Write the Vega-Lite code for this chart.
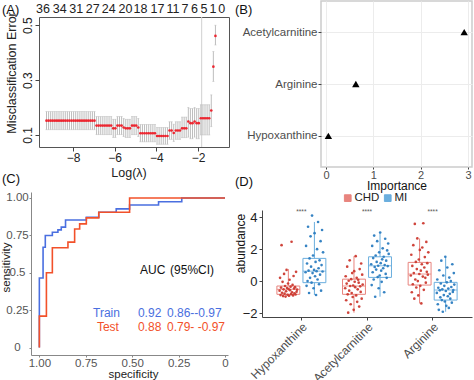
{
"$schema": "https://vega.github.io/schema/vega-lite/v6.json",
"padding": 0,
"config": {
  "font": "Liberation Sans",
  "view": {"stroke": null},
  "axis": {"grid": false, "labelFont": "Liberation Sans", "titleFont": "Liberation Sans", "titleFontWeight": "normal"},
  "title": {"font": "Liberation Sans", "fontWeight": "normal", "fontSize": 13, "color": "#111"}
},
"datasets": {
  "cv": [
    {"l":-9.27,"e":0.152,"lo":0.119,"hi":0.185},{"l":-9.17,"e":0.152,"lo":0.119,"hi":0.185},{"l":-9.07,"e":0.152,"lo":0.119,"hi":0.185},{"l":-8.97,"e":0.152,"lo":0.119,"hi":0.185},
    {"l":-8.87,"e":0.152,"lo":0.119,"hi":0.185},{"l":-8.77,"e":0.152,"lo":0.119,"hi":0.185},{"l":-8.67,"e":0.152,"lo":0.119,"hi":0.185},{"l":-8.57,"e":0.152,"lo":0.119,"hi":0.185},
    {"l":-8.47,"e":0.152,"lo":0.119,"hi":0.185},{"l":-8.37,"e":0.152,"lo":0.119,"hi":0.185},{"l":-8.27,"e":0.152,"lo":0.119,"hi":0.185},{"l":-8.17,"e":0.152,"lo":0.119,"hi":0.185},
    {"l":-8.07,"e":0.152,"lo":0.119,"hi":0.185},{"l":-7.97,"e":0.152,"lo":0.119,"hi":0.185},{"l":-7.87,"e":0.152,"lo":0.119,"hi":0.185},{"l":-7.77,"e":0.152,"lo":0.119,"hi":0.185},
    {"l":-7.67,"e":0.152,"lo":0.119,"hi":0.185},{"l":-7.57,"e":0.152,"lo":0.119,"hi":0.185},{"l":-7.47,"e":0.152,"lo":0.119,"hi":0.185},{"l":-7.37,"e":0.152,"lo":0.119,"hi":0.185},
    {"l":-7.27,"e":0.152,"lo":0.119,"hi":0.185},{"l":-7.17,"e":0.152,"lo":0.119,"hi":0.185},{"l":-7.07,"e":0.152,"lo":0.119,"hi":0.185},{"l":-6.97,"e":0.152,"lo":0.119,"hi":0.185},
    {"l":-6.87,"e":0.134,"lo":0.101,"hi":0.167},{"l":-6.77,"e":0.134,"lo":0.101,"hi":0.167},{"l":-6.67,"e":0.134,"lo":0.101,"hi":0.167},{"l":-6.57,"e":0.134,"lo":0.101,"hi":0.167},
    {"l":-6.47,"e":0.134,"lo":0.101,"hi":0.167},{"l":-6.37,"e":0.134,"lo":0.101,"hi":0.167},{"l":-6.27,"e":0.134,"lo":0.101,"hi":0.167},{"l":-6.17,"e":0.134,"lo":0.101,"hi":0.167},
    {"l":-6.07,"e":0.124,"lo":0.091,"hi":0.157},{"l":-5.97,"e":0.124,"lo":0.091,"hi":0.157},
    {"l":-5.87,"e":0.134,"lo":0.101,"hi":0.167},{"l":-5.77,"e":0.134,"lo":0.101,"hi":0.167},{"l":-5.67,"e":0.134,"lo":0.101,"hi":0.167},
    {"l":-5.57,"e":0.127,"lo":0.094,"hi":0.16},
    {"l":-5.47,"e":0.124,"lo":0.091,"hi":0.157},{"l":-5.37,"e":0.124,"lo":0.091,"hi":0.157},{"l":-5.27,"e":0.124,"lo":0.091,"hi":0.157},
    {"l":-5.17,"e":0.134,"lo":0.101,"hi":0.167},{"l":-5.07,"e":0.134,"lo":0.101,"hi":0.167},{"l":-4.97,"e":0.134,"lo":0.101,"hi":0.167},
    {"l":-4.87,"e":0.127,"lo":0.094,"hi":0.16},
    {"l":-4.77,"e":0.106,"lo":0.075,"hi":0.138},{"l":-4.67,"e":0.106,"lo":0.075,"hi":0.138},{"l":-4.57,"e":0.106,"lo":0.075,"hi":0.138},{"l":-4.47,"e":0.106,"lo":0.075,"hi":0.138},
    {"l":-4.37,"e":0.106,"lo":0.075,"hi":0.138},{"l":-4.27,"e":0.106,"lo":0.075,"hi":0.138},{"l":-4.17,"e":0.106,"lo":0.075,"hi":0.138},{"l":-4.07,"e":0.106,"lo":0.075,"hi":0.138},
    {"l":-3.97,"e":0.096,"lo":0.066,"hi":0.127},{"l":-3.87,"e":0.096,"lo":0.066,"hi":0.127},{"l":-3.77,"e":0.096,"lo":0.066,"hi":0.127},
    {"l":-3.67,"e":0.096,"lo":0.066,"hi":0.127},{"l":-3.57,"e":0.096,"lo":0.066,"hi":0.127},{"l":-3.47,"e":0.096,"lo":0.066,"hi":0.127},
    {"l":-3.37,"e":0.116,"lo":0.084,"hi":0.148},{"l":-3.27,"e":0.116,"lo":0.084,"hi":0.148},
    {"l":-3.17,"e":0.107,"lo":0.076,"hi":0.139},
    {"l":-3.07,"e":0.116,"lo":0.084,"hi":0.148},{"l":-2.97,"e":0.116,"lo":0.084,"hi":0.148},{"l":-2.87,"e":0.116,"lo":0.084,"hi":0.148},
    {"l":-2.77,"e":0.124,"lo":0.09,"hi":0.165},{"l":-2.67,"e":0.124,"lo":0.09,"hi":0.165},{"l":-2.57,"e":0.124,"lo":0.09,"hi":0.165},
    {"l":-2.47,"e":0.149,"lo":0.092,"hi":0.2},
    {"l":-2.37,"e":0.143,"lo":0.086,"hi":0.196},{"l":-2.27,"e":0.143,"lo":0.086,"hi":0.196},
    {"l":-2.17,"e":0.149,"lo":0.092,"hi":0.2},
    {"l":-2.07,"e":0.143,"lo":0.086,"hi":0.196},{"l":-1.97,"e":0.143,"lo":0.086,"hi":0.196},
    {"l":-1.87,"e":0.161,"lo":0.1,"hi":0.21},{"l":-1.77,"e":0.161,"lo":0.1,"hi":0.21},{"l":-1.67,"e":0.161,"lo":0.1,"hi":0.21},
    {"l":-1.57,"e":0.161,"lo":0.1,"hi":0.21},{"l":-1.47,"e":0.161,"lo":0.1,"hi":0.21},
    {"l":-1.37,"e":0.189,"lo":0.13,"hi":0.246},
    {"l":-1.27,"e":0.349,"lo":0.295,"hi":0.404},
    {"l":-1.17,"e":0.461,"lo":0.428,"hi":0.5}
  ],
  "imp": [
    {"name":"Acetylcarnitine","imp":2.92},
    {"name":"Arginine","imp":0.63},
    {"name":"Hypoxanthine","imp":0.05}
  ],
  "train": [
    {"spec":1,"sens":0},{"spec":1,"sens":0.465},{"spec":0.98,"sens":0.465},{"spec":0.98,"sens":0.671},
    {"spec":0.968,"sens":0.671},{"spec":0.968,"sens":0.749},{"spec":0.93,"sens":0.749},{"spec":0.93,"sens":0.771},
    {"spec":0.9,"sens":0.771},{"spec":0.9,"sens":0.787},{"spec":0.882,"sens":0.787},{"spec":0.882,"sens":0.805},
    {"spec":0.859,"sens":0.805},{"spec":0.859,"sens":0.853},{"spec":0.747,"sens":0.853},{"spec":0.747,"sens":0.871},
    {"spec":0.68,"sens":0.871},{"spec":0.68,"sens":0.905},{"spec":0.586,"sens":0.905},{"spec":0.586,"sens":0.927},
    {"spec":0.514,"sens":0.927},{"spec":0.514,"sens":0.953},{"spec":0.358,"sens":0.953},{"spec":0.358,"sens":0.975},
    {"spec":0.233,"sens":0.975},{"spec":0.233,"sens":1},{"spec":0,"sens":1}
  ],
  "test": [
    {"spec":1,"sens":0},{"spec":1,"sens":0.21},{"spec":0.962,"sens":0.21},{"spec":0.962,"sens":0.5},
    {"spec":0.93,"sens":0.5},{"spec":0.93,"sens":0.667},{"spec":0.846,"sens":0.667},{"spec":0.846,"sens":0.705},
    {"spec":0.81,"sens":0.705},{"spec":0.81,"sens":0.793},{"spec":0.783,"sens":0.793},{"spec":0.783,"sens":0.827},
    {"spec":0.747,"sens":0.827},{"spec":0.747,"sens":0.867},{"spec":0.68,"sens":0.867},{"spec":0.68,"sens":0.905},
    {"spec":0.514,"sens":0.905},{"spec":0.514,"sens":1},{"spec":0,"sens":1}
  ],
  "boxes": [
    {"m":"Hypoxanthine","g":"CHD","lower":-0.98,"q1":-0.83,"med":-0.52,"q3":-0.31,"upper":0.75},
    {"m":"Hypoxanthine","g":"MI","lower":-0.87,"q1":-0.1,"med":0.62,"q3":1.42,"upper":3.7},
    {"m":"Acetylcarnitine","g":"CHD","lower":-1.98,"q1":-0.83,"med":-0.31,"q3":0.12,"upper":1.56},
    {"m":"Acetylcarnitine","g":"MI","lower":-0.98,"q1":0.23,"med":0.96,"q3":1.52,"upper":3.04},
    {"m":"Arginine","g":"CHD","lower":-1.4,"q1":-0.25,"med":0.44,"q3":1.17,"upper":2.67},
    {"m":"Arginine","g":"MI","lower":-1.92,"q1":-1.19,"med":-0.56,"q3":-0.08,"upper":1.52}
  ],
  "ptsCHD": [
    {"i":1,"Hypoxanthine":-0.6,"Acetylcarnitine":-0.45,"Arginine":0.35},
    {"i":2,"Hypoxanthine":0.2,"Acetylcarnitine":0.3,"Arginine":1.65},
    {"i":3,"Hypoxanthine":-0.88,"Acetylcarnitine":-1.2,"Arginine":-0.7},
    {"i":4,"Hypoxanthine":-0.41,"Acetylcarnitine":-0.16,"Arginine":0.95},
    {"i":5,"Hypoxanthine":2.25,"Acetylcarnitine":0.9,"Arginine":-0.2},
    {"i":6,"Hypoxanthine":-0.73,"Acetylcarnitine":-0.83,"Arginine":2.25},
    {"i":7,"Hypoxanthine":-0.05,"Acetylcarnitine":-1.98,"Arginine":0.5},
    {"i":8,"Hypoxanthine":-0.94,"Acetylcarnitine":0.02,"Arginine":-1.1},
    {"i":9,"Hypoxanthine":-0.52,"Acetylcarnitine":-0.6,"Arginine":3.58},
    {"i":10,"Hypoxanthine":0.45,"Acetylcarnitine":1.3,"Arginine":0.1},
    {"i":11,"Hypoxanthine":-0.79,"Acetylcarnitine":-0.31,"Arginine":1.2},
    {"i":12,"Hypoxanthine":-0.31,"Acetylcarnitine":-1.45,"Arginine":-0.4},
    {"i":13,"Hypoxanthine":-0.97,"Acetylcarnitine":0.12,"Arginine":0.75},
    {"i":14,"Hypoxanthine":-0.64,"Acetylcarnitine":-0.75,"Arginine":2.67},
    {"i":15,"Hypoxanthine":0.7,"Acetylcarnitine":0.5,"Arginine":0.0},
    {"i":16,"Hypoxanthine":-0.44,"Acetylcarnitine":-1.0,"Arginine":-0.9},
    {"i":17,"Hypoxanthine":-0.86,"Acetylcarnitine":-0.28,"Arginine":1.35},
    {"i":18,"Hypoxanthine":-0.15,"Acetylcarnitine":-1.8,"Arginine":0.44},
    {"i":19,"Hypoxanthine":-0.5,"Acetylcarnitine":0.62,"Arginine":1.95},
    {"i":20,"Hypoxanthine":-0.92,"Acetylcarnitine":-0.04,"Arginine":-0.3},
    {"i":21,"Hypoxanthine":0.08,"Acetylcarnitine":-0.38,"Arginine":0.65},
    {"i":22,"Hypoxanthine":-0.57,"Acetylcarnitine":1.56,"Arginine":-1.4},
    {"i":23,"Hypoxanthine":-0.35,"Acetylcarnitine":-0.9,"Arginine":1.05},
    {"i":24,"Hypoxanthine":-0.82,"Acetylcarnitine":0.2,"Arginine":2.1},
    {"i":25,"Hypoxanthine":2.46,"Acetylcarnitine":-1.3,"Arginine":0.28},
    {"i":26,"Hypoxanthine":-0.7,"Acetylcarnitine":-0.52,"Arginine":3.62},
    {"i":27,"Hypoxanthine":-0.24,"Acetylcarnitine":0.08,"Arginine":-0.55},
    {"i":28,"Hypoxanthine":-0.9,"Acetylcarnitine":-0.1,"Arginine":0.85},
    {"i":29,"Hypoxanthine":0.32,"Acetylcarnitine":-1.6,"Arginine":1.5},
    {"i":30,"Hypoxanthine":-0.47,"Acetylcarnitine":0.75,"Arginine":0.2},
    {"i":31,"Hypoxanthine":-0.76,"Acetylcarnitine":-0.33,"Arginine":-0.1},
    {"i":32,"Hypoxanthine":-0.38,"Acetylcarnitine":-0.68,"Arginine":2.45},
    {"i":33,"Hypoxanthine":-0.84,"Acetylcarnitine":1.1,"Arginine":0.58},
    {"i":34,"Hypoxanthine":0.58,"Acetylcarnitine":-1.1,"Arginine":1.12},
    {"i":35,"Hypoxanthine":-0.67,"Acetylcarnitine":0.4,"Arginine":0.4},
    {"i":36,"Hypoxanthine":-0.54,"Acetylcarnitine":-0.22,"Arginine":1.8}
  ],
  "ptsMI": [
    {"i":1,"Hypoxanthine":0.55,"Acetylcarnitine":1.05,"Arginine":-0.74},
    {"i":2,"Hypoxanthine":2.2,"Acetylcarnitine":-0.25,"Arginine":0.1},
    {"i":3,"Hypoxanthine":-0.3,"Acetylcarnitine":2.2,"Arginine":-1.45},
    {"i":4,"Hypoxanthine":1.1,"Acetylcarnitine":0.55,"Arginine":-0.42},
    {"i":5,"Hypoxanthine":0.0,"Acetylcarnitine":1.44,"Arginine":-1.8},
    {"i":6,"Hypoxanthine":3.4,"Acetylcarnitine":0.1,"Arginine":0.68},
    {"i":7,"Hypoxanthine":0.65,"Acetylcarnitine":2.85,"Arginine":-0.58},
    {"i":8,"Hypoxanthine":-0.75,"Acetylcarnitine":0.88,"Arginine":-1.02},
    {"i":9,"Hypoxanthine":1.42,"Acetylcarnitine":-0.98,"Arginine":-0.15},
    {"i":10,"Hypoxanthine":0.2,"Acetylcarnitine":1.6,"Arginine":1.28},
    {"i":11,"Hypoxanthine":2.8,"Acetylcarnitine":0.72,"Arginine":-1.19},
    {"i":12,"Hypoxanthine":0.9,"Acetylcarnitine":1.2,"Arginine":-0.52},
    {"i":13,"Hypoxanthine":-0.1,"Acetylcarnitine":2.5,"Arginine":-1.92},
    {"i":14,"Hypoxanthine":4.1,"Acetylcarnitine":0.25,"Arginine":0.35},
    {"i":15,"Hypoxanthine":0.5,"Acetylcarnitine":0.96,"Arginine":-0.88},
    {"i":16,"Hypoxanthine":1.6,"Acetylcarnitine":-0.45,"Arginine":-0.3},
    {"i":17,"Hypoxanthine":-0.45,"Acetylcarnitine":1.8,"Arginine":-1.28},
    {"i":18,"Hypoxanthine":0.7,"Acetylcarnitine":0.35,"Arginine":1.52},
    {"i":19,"Hypoxanthine":3.0,"Acetylcarnitine":3.04,"Arginine":-0.62},
    {"i":20,"Hypoxanthine":0.3,"Acetylcarnitine":1.12,"Arginine":-1.55},
    {"i":21,"Hypoxanthine":1.2,"Acetylcarnitine":0.65,"Arginine":-0.08},
    {"i":22,"Hypoxanthine":-0.87,"Acetylcarnitine":-0.05,"Arginine":0.85},
    {"i":23,"Hypoxanthine":0.62,"Acetylcarnitine":1.36,"Arginine":-0.95},
    {"i":24,"Hypoxanthine":2.0,"Acetylcarnitine":2.05,"Arginine":-0.47},
    {"i":25,"Hypoxanthine":0.1,"Acetylcarnitine":0.8,"Arginine":-1.68},
    {"i":26,"Hypoxanthine":3.7,"Acetylcarnitine":1.52,"Arginine":0.22},
    {"i":27,"Hypoxanthine":0.8,"Acetylcarnitine":-0.7,"Arginine":-0.8},
    {"i":28,"Hypoxanthine":-0.2,"Acetylcarnitine":1.0,"Arginine":-1.1},
    {"i":29,"Hypoxanthine":1.3,"Acetylcarnitine":2.65,"Arginine":0.0},
    {"i":30,"Hypoxanthine":0.4,"Acetylcarnitine":0.45,"Arginine":-0.37},
    {"i":31,"Hypoxanthine":2.5,"Acetylcarnitine":1.28,"Arginine":-1.35},
    {"i":32,"Hypoxanthine":-0.6,"Acetylcarnitine":0.2,"Arginine":1.05},
    {"i":33,"Hypoxanthine":1.0,"Acetylcarnitine":1.92,"Arginine":-0.68},
    {"i":34,"Hypoxanthine":3.2,"Acetylcarnitine":0.94,"Arginine":-0.56},
    {"i":35,"Hypoxanthine":0.6,"Acetylcarnitine":2.35,"Arginine":0.5},
    {"i":36,"Hypoxanthine":1.8,"Acetylcarnitine":1.7,"Arginine":-0.22}
  ]
},
"bounds": "flush",
"spacing": 191,
"resolve": {"scale": {"color": "independent"}, "legend": {"color": "independent"}},
"vconcat": [
  {
    "bounds": "flush",
    "spacing": 290,
    "hconcat": [
      {
        "bounds": "flush",
        "spacing": 0,
        "hconcat": [
          {"width": 8, "height": 1, "data": {"values": []}, "mark": "point"},
          {
            "bounds": "flush",
            "spacing": 0,
            "vconcat": [
              {"width": 1, "height": 16, "data": {"values": []}, "mark": "point"},
              {
                "width": 190, "height": 130,
                "view": {"stroke": "#555", "strokeWidth": 1},
                "title": {"text": "(A)", "anchor": "start", "frame": "group", "offset": 0, "dx": -37, "dy": 15},
                "layer": [
                  {"data": {"values": [{"l": -1.83}]}, "mark": {"type": "rule", "color": "#d0d0d0", "strokeWidth": 1},
                   "encoding": {"x": {"field": "l", "type": "quantitative", "axis": null}}},
                  {"data": {"name": "cv"}, "mark": {"type": "rule", "color": "#bdbdbd", "strokeWidth": 1},
                   "encoding": {
                     "x": {"field": "l", "type": "quantitative", "scale": {"domain": [-9.63, -0.52], "nice": false, "zero": false},
                           "axis": {"orient": "bottom", "values": [-8, -6, -4, -2], "title": "Log(λ)", "tickSize": 4, "tickColor": "#444", "domain": false,
                                    "labelFontSize": 12, "labelColor": "#222", "labelPadding": 1, "titleFontSize": 12.5, "titleColor": "#222", "titleX": 89.5, "titleY": 19}},
                     "y": {"field": "lo", "type": "quantitative", "scale": {"domain": [0.056, 0.53], "nice": false, "zero": false},
                           "axis": {"values": [0.1, 0.2, 0.3, 0.4, 0.5], "labelAngle": -90, "labelAlign": "center", "labelBaseline": "bottom", "tickSize": 4, "tickColor": "#444",
                                    "labelPadding": 1, "domain": false, "labelFontSize": 12, "labelColor": "#222", "title": "Misclassification Error",
                                    "titleFontSize": 12.5, "titleColor": "#222", "titleX": -21, "titleY": 55.5}},
                     "y2": {"field": "hi"}
                   }},
                  {"data": {"name": "cv"}, "mark": {"type": "tick", "orient": "horizontal", "size": 2, "thickness": 0.8, "color": "#bdbdbd"},
                   "encoding": {"x": {"field": "l", "type": "quantitative", "axis": null}, "y": {"field": "hi", "type": "quantitative"}}},
                  {"data": {"name": "cv"}, "mark": {"type": "tick", "orient": "horizontal", "size": 2, "thickness": 0.8, "color": "#bdbdbd"},
                   "encoding": {"x": {"field": "l", "type": "quantitative", "axis": null}, "y": {"field": "lo", "type": "quantitative"}}},
                  {"data": {"name": "cv"}, "mark": {"type": "circle", "color": "#ec2630", "size": 7, "opacity": 1},
                   "encoding": {
                     "x": {"field": "l", "type": "quantitative",
                           "axis": {"orient": "top", "values": [-9.46, -8.66, -7.87, -7.08, -6.31, -5.51, -4.79, -3.97, -3.23, -2.65, -2.2, -1.75, -1.31, -0.89],
                                    "labelExpr": "['36','34','31','27','24','20','18','17','11','7','6','5','1','0'][indexof([-9.46,-8.66,-7.87,-7.08,-6.31,-5.51,-4.79,-3.97,-3.23,-2.65,-2.2,-1.75,-1.31,-0.89], datum.value)]",
                                    "ticks": false, "domain": false, "labelPadding": 2, "labelFontSize": 12.5, "labelColor": "#222", "title": null, "labelOverlap": false, "labelFlush": false}},
                     "y": {"field": "e", "type": "quantitative"}
                   }}
                ],
                "resolve": {"axis": {"x": "independent"}}
              }
            ]
          }
        ]
      },
      {
        "width": 151, "height": 166,
        "view": {"stroke": "#cccccc", "strokeWidth": 1.5},
        "title": {"text": "(B)", "anchor": "start", "frame": "group", "offset": 0, "dx": -86, "dy": 16},
        "data": {"name": "imp"},
        "mark": {"type": "point", "shape": "triangle-up", "filled": true, "color": "black", "size": 55, "opacity": 1},
        "encoding": {
          "x": {"field": "imp", "type": "quantitative", "title": "Importance", "scale": {"domain": [-0.106, 3.085], "nice": false, "zero": false},
                "axis": {"values": [0, 1, 2, 3], "grid": true, "gridColor": "#ececec", "tickSize": 2, "tickColor": "#444", "domain": false,
                         "labelFontSize": 11, "labelColor": "#4d4d4d", "labelPadding": 0, "titleFontSize": 12, "titleColor": "#111", "titleY": 13}},
          "y": {"field": "name", "type": "nominal", "sort": ["Acetylcarnitine", "Arginine", "Hypoxanthine"], "title": null,
                "scale": {"type": "point", "padding": 0.6},
                "axis": {"grid": true, "gridColor": "#ececec", "tickSize": 3, "tickColor": "#444", "domain": false,
                         "labelFontSize": 11.5, "labelColor": "#4d4d4d", "labelPadding": 1}}
        }
      }
    ]
  },
  {
    "bounds": "flush",
    "spacing": 34,
    "resolve": {"scale": {"color": "independent"}, "legend": {"color": "independent"}},
    "hconcat": [
      {
        "width": 197, "height": 163,
        "title": {"text": "(C)", "anchor": "start", "frame": "group", "offset": 0, "dx": -29, "dy": -6},
        "layer": [
          {"data": {"name": "train"}, "mark": {"type": "line", "color": "#4a6fe0", "strokeWidth": 1.6},
           "encoding": {
             "x": {"field": "spec", "type": "quantitative", "scale": {"domain": [-0.016, 1.045], "reverse": true, "nice": false, "zero": false},
                   "axis": {"values": [0, 0.25, 0.5, 0.75, 1], "labelExpr": "datum.value == 0 ? '0' : format(datum.value, '.2f')", "title": "specificity",
                            "tickSize": 2, "tickColor": "#888", "domainColor": "#888", "labelColor": "#555", "labelFontSize": 11.5, "labelPadding": 0,
                            "labelFlush": false, "titleFontSize": 11.5, "titleColor": "#222", "titleX": 102, "titleY": 13}},
             "y": {"field": "sens", "type": "quantitative", "scale": {"domain": [-0.05, 1.04], "nice": false, "zero": false},
                   "axis": {"values": [0, 0.25, 0.5, 0.75, 1], "labelExpr": "datum.value == 0 ? '0' : datum.value == 0.5 ? '0.5' : format(datum.value, '.2f')",
                            "title": "sensitivity", "labelAlign": "center", "labelPadding": 12, "tickSize": 2, "tickColor": "#888", "domainColor": "#888",
                            "labelColor": "#555", "labelFontSize": 11.5, "titleFontSize": 11.5, "titleColor": "#222", "titleX": -20, "titleY": 75}},
             "order": {"value": null}
           }},
          {"data": {"name": "test"}, "mark": {"type": "line", "color": "#f2512a", "strokeWidth": 1.6},
           "encoding": {"x": {"field": "spec", "type": "quantitative"}, "y": {"field": "sens", "type": "quantitative"}, "order": {"value": null}}},
          {"data": {"values": [{}]}, "mark": {"type": "text", "text": "AUC", "align": "left", "baseline": "middle", "fontSize": 12, "color": "#111"},
           "encoding": {"x": {"datum": 0.458}, "y": {"datum": 0.518}}},
          {"data": {"values": [{}]}, "mark": {"type": "text", "text": "(95%CI)", "align": "left", "baseline": "middle", "fontSize": 12, "color": "#111"},
           "encoding": {"x": {"datum": 0.296}, "y": {"datum": 0.518}}},
          {"data": {"values": [{}]}, "mark": {"type": "text", "text": "Train", "align": "left", "baseline": "middle", "fontSize": 12, "color": "#4a6fe0"},
           "encoding": {"x": {"datum": 0.711}, "y": {"datum": 0.233}}},
          {"data": {"values": [{}]}, "mark": {"type": "text", "text": "0.92", "align": "left", "baseline": "middle", "fontSize": 12, "color": "#4a6fe0"},
           "encoding": {"x": {"datum": 0.469}, "y": {"datum": 0.233}}},
          {"data": {"values": [{}]}, "mark": {"type": "text", "text": "0.86--0.97", "align": "left", "baseline": "middle", "fontSize": 12, "color": "#4a6fe0"},
           "encoding": {"x": {"datum": 0.3125}, "y": {"datum": 0.233}}},
          {"data": {"values": [{}]}, "mark": {"type": "text", "text": "Test", "align": "left", "baseline": "middle", "fontSize": 12, "color": "#f2512a"},
           "encoding": {"x": {"datum": 0.69}, "y": {"datum": 0.14}}},
          {"data": {"values": [{}]}, "mark": {"type": "text", "text": "0.88", "align": "left", "baseline": "middle", "fontSize": 12, "color": "#f2512a"},
           "encoding": {"x": {"datum": 0.469}, "y": {"datum": 0.14}}},
          {"data": {"values": [{}]}, "mark": {"type": "text", "text": "0.79- -0.97", "align": "left", "baseline": "middle", "fontSize": 12, "color": "#f2512a"},
           "encoding": {"x": {"datum": 0.3125}, "y": {"datum": 0.14}}}
        ]
      },
      {
        "bounds": "flush",
        "spacing": 0,
        "resolve": {"scale": {"color": "independent"}, "legend": {"color": "independent"}},
        "vconcat": [
          {"width": 1, "height": 18, "data": {"values": []}, "mark": "point"},
          {
            "width": 210, "height": 107,
            "title": {"text": "(D)", "anchor": "start", "frame": "group", "offset": 0, "dx": -27, "dy": -3},
            "layer": [
              {"data": {"name": "boxes"}, "mark": {"type": "rule", "strokeWidth": 1},
               "encoding": {
                 "x": {"field": "m", "type": "nominal", "sort": ["Hypoxanthine", "Acetylcarnitine", "Arginine"], "title": null,
                       "scale": {"paddingInner": 0, "paddingOuter": 0.1},
                       "axis": {"labelAngle": -45, "labelFontSize": 12, "labelColor": "#4d4d4d", "tickSize": 3, "tickColor": "#444", "domainColor": "#444", "labelPadding": 1}},
                 "xOffset": {"field": "g", "type": "nominal", "sort": ["CHD", "MI"], "scale": {"paddingInner": 0.12, "paddingOuter": 0.32}},
                 "y": {"field": "lower", "type": "quantitative", "scale": {"domain": [-2.25, 4.45], "nice": false, "zero": false},
                       "axis": {"values": [-2, 0, 2, 4], "labelOverlap": false, "labelBound": false, "labelFlush": false, "labelFontSize": 13, "labelColor": "#222", "tickSize": 3, "tickColor": "#444", "domainColor": "#444",
                                "title": "abundance", "titleFontSize": 12, "titleColor": "#111", "titleX": -15, "titleY": 33}},
                 "y2": {"field": "q1"},
                 "color": {"field": "g", "type": "nominal", "scale": {"domain": ["CHD", "MI"], "range": ["#e8847e", "#6aaede"]},
                           "legend": {"orient": "none", "legendX": 80, "legendY": -18, "direction": "horizontal", "title": null, "labelFontSize": 11.5,
                                      "labelColor": "#222", "symbolType": "square", "symbolSize": 45, "symbolStrokeWidth": 1, "symbolFillColor": "white",
                                      "columnPadding": 2, "labelOffset": 1, "padding": 0}}
               }},
              {"data": {"name": "boxes"}, "mark": {"type": "rule", "strokeWidth": 1},
               "encoding": {
                 "x": {"field": "m", "type": "nominal", "sort": ["Hypoxanthine", "Acetylcarnitine", "Arginine"]},
                 "xOffset": {"field": "g", "type": "nominal", "sort": ["CHD", "MI"], "scale": {"paddingInner": 0.12, "paddingOuter": 0.32}},
                 "y": {"field": "q3", "type": "quantitative",
                       "axis": {"values": [-2, 0, 2, 4], "labelOverlap": false, "labelBound": false, "labelFlush": false, "labelFontSize": 13, "labelColor": "#222", "tickSize": 3, "tickColor": "#444", "domainColor": "#444",
                                "title": "abundance", "titleFontSize": 12, "titleColor": "#111", "titleX": -15, "titleY": 33}},
                 "y2": {"field": "upper"},
                 "color": {"field": "g", "type": "nominal"}
               }},
              {"data": {"name": "boxes"}, "mark": {"type": "bar", "filled": false, "strokeWidth": 1},
               "encoding": {
                 "x": {"field": "m", "type": "nominal", "sort": ["Hypoxanthine", "Acetylcarnitine", "Arginine"]},
                 "xOffset": {"field": "g", "type": "nominal", "sort": ["CHD", "MI"], "scale": {"paddingInner": 0.12, "paddingOuter": 0.32}},
                 "y": {"field": "q1", "type": "quantitative",
                       "axis": {"values": [-2, 0, 2, 4], "labelOverlap": false, "labelBound": false, "labelFlush": false, "labelFontSize": 13, "labelColor": "#222", "tickSize": 3, "tickColor": "#444", "domainColor": "#444",
                                "title": "abundance", "titleFontSize": 12, "titleColor": "#111", "titleX": -15, "titleY": 33}},
                 "y2": {"field": "q3"},
                 "color": {"field": "g", "type": "nominal"}
               }},
              {"data": {"name": "boxes"}, "mark": {"type": "tick", "orient": "horizontal", "thickness": 1.2, "size": 23},
               "encoding": {
                 "x": {"field": "m", "type": "nominal", "sort": ["Hypoxanthine", "Acetylcarnitine", "Arginine"]},
                 "xOffset": {"field": "g", "type": "nominal", "sort": ["CHD", "MI"], "scale": {"paddingInner": 0.12, "paddingOuter": 0.32}},
                 "y": {"field": "med", "type": "quantitative",
                       "axis": {"values": [-2, 0, 2, 4], "labelOverlap": false, "labelBound": false, "labelFlush": false, "labelFontSize": 13, "labelColor": "#222", "tickSize": 3, "tickColor": "#444", "domainColor": "#444",
                                "title": "abundance", "titleFontSize": 12, "titleColor": "#111", "titleX": -15, "titleY": 33}},
                 "color": {"field": "g", "type": "nominal"}
               }},
              {"data": {"name": "ptsCHD"}, "transform": [{"fold": ["Hypoxanthine", "Acetylcarnitine", "Arginine"], "as": ["m", "v"]}],
               "mark": {"type": "circle", "size": 7, "opacity": 0.95, "color": "#cc3a30"},
               "encoding": {
                 "x": {"field": "m", "type": "nominal", "sort": ["Hypoxanthine", "Acetylcarnitine", "Arginine"]},
                 "xOffset": {"field": "i", "type": "quantitative", "scale": {"domain": [1, 36], "range": [11, 28.5], "zero": false, "nice": false}},
                 "y": {"field": "v", "type": "quantitative",
                       "axis": {"values": [-2, 0, 2, 4], "labelOverlap": false, "labelBound": false, "labelFlush": false, "labelFontSize": 13, "labelColor": "#222", "tickSize": 3, "tickColor": "#444", "domainColor": "#444",
                                "title": "abundance", "titleFontSize": 12, "titleColor": "#111", "titleX": -15, "titleY": 33}}
               }},
              {"data": {"name": "ptsMI"}, "transform": [{"fold": ["Hypoxanthine", "Acetylcarnitine", "Arginine"], "as": ["m", "v"]}],
               "mark": {"type": "circle", "size": 7, "opacity": 0.95, "color": "#2b7cc0"},
               "encoding": {
                 "x": {"field": "m", "type": "nominal", "sort": ["Hypoxanthine", "Acetylcarnitine", "Arginine"]},
                 "xOffset": {"field": "i", "type": "quantitative", "scale": {"domain": [1, 36], "range": [37, 54.5], "zero": false, "nice": false}},
                 "y": {"field": "v", "type": "quantitative",
                       "axis": {"values": [-2, 0, 2, 4], "labelOverlap": false, "labelBound": false, "labelFlush": false, "labelFontSize": 13, "labelColor": "#222", "tickSize": 3, "tickColor": "#444", "domainColor": "#444",
                                "title": "abundance", "titleFontSize": 12, "titleColor": "#111", "titleX": -15, "titleY": 33}}
               }},
              {"data": {"name": "boxes"}, "transform": [{"filter": "datum.g == 'CHD'"}],
               "mark": {"type": "text", "text": "****", "fontSize": 6.5, "color": "#555", "baseline": "middle"},
               "encoding": {
                 "x": {"field": "m", "type": "nominal", "sort": ["Hypoxanthine", "Acetylcarnitine", "Arginine"]},
                 "y": {"datum": 4.3,
                       "axis": {"values": [-2, 0, 2, 4], "labelOverlap": false, "labelBound": false, "labelFlush": false, "labelFontSize": 13, "labelColor": "#222", "tickSize": 3, "tickColor": "#444", "domainColor": "#444",
                                "title": "abundance", "titleFontSize": 12, "titleColor": "#111", "titleX": -15, "titleY": 33}}
               }}
            ],
            "resolve": {"scale": {"xOffset": "independent"}}
          }
        ]
      }
    ]
  }
]
}
